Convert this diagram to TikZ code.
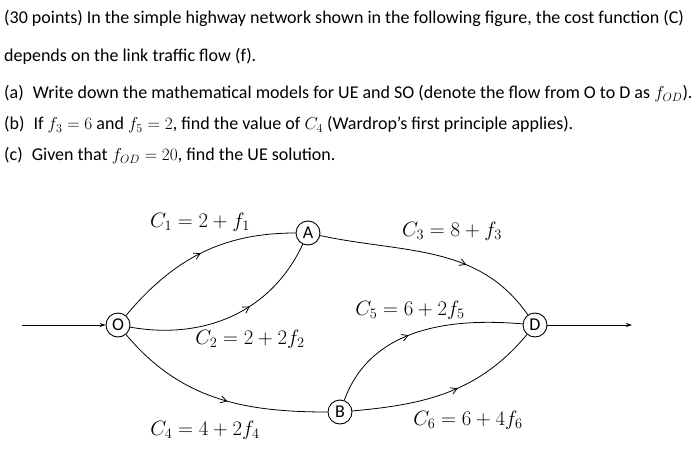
\documentclass[tikz,border=0pt]{standalone}
\usepackage{fontspec}
\setmainfont{Carlito}
\usetikzlibrary{decorations.markings,arrows.meta}
\begin{document}
\begin{tikzpicture}[x=1pt,y=-1pt,
  vtx/.style={draw,circle,minimum size=24pt,inner sep=0pt,line width=0.9pt,font=\fontsize{18}{18}\selectfont},
  link/.style={line width=0.8pt,postaction={decorate},decoration={markings,mark=at position #1 with {\arrow{Straight Barb[length=6pt,width=7pt]}}}},
  lbl/.style={font=\fontsize{20}{20}\selectfont},
  txt/.style={anchor=west,font=\fontsize{18}{20}\selectfont,inner sep=0pt}]
\useasboundingbox (0,0) rectangle (700,473);
\node[txt] (t1) at (4,18) {(30 points) In the simple highway network shown in the following figure, the cost function (C)};
\node[txt] (t2) at (4,56) {depends on the link traffic flow (f).};
\node[txt] (t3) at (4,94) {(a)\; Write down the mathematical models for UE and SO (denote the flow from O to D as $f_{OD}$).};
\node[txt] (t4) at (4,125) {(b)\; If $f_3=6$ and $f_5=2$, find the value of $C_4$ (Wardrop's first principle applies).};
\node[txt] (t5) at (4,156) {(c)\; Given that $f_{OD}=20$, find the UE solution.};
\node[vtx] (O) at (118,325) {O};
\node[vtx] (A) at (308,233) {A};
\node[vtx] (D) at (535,325) {D};
\node[vtx] (B) at (340,412) {B};
\coordinate (in) at (22,325);
\coordinate (out) at (632,325);
\draw[line width=0.8pt,-{Stealth[length=6pt,width=4pt]}] (in) -- (O);
\draw[line width=0.8pt,-{Stealth[length=6pt,width=4pt]}] (D) -- (out);
\draw[link=0.5] (O) to[out=50,in=180] (A);
\draw[link=0.6] (O) to[out=-10,in=-115] (A);
\draw[link=0.65] (A) to[out=-12,in=125] (D);
\draw[link=0.55] (O) to[out=-50,in=180] (B);
\draw[link=0.45] (B) to[out=70,in=175] (D);
\draw[link=0.55] (B) to[out=5,in=-130] (D);
\node[lbl] (l1) at (200,222) {$C_1=2+f_1$};
\node[lbl] (l2) at (250,339) {$C_2=2+2f_2$};
\node[lbl] (l3) at (452,231) {$C_3=8+f_3$};
\node[lbl] (l4) at (205,430) {$C_4=4+2f_4$};
\node[lbl] (l5) at (410,310) {$C_5=6+2f_5$};
\node[lbl] (l6) at (468,420) {$C_6=6+4f_6$};
\end{tikzpicture}
\end{document}
